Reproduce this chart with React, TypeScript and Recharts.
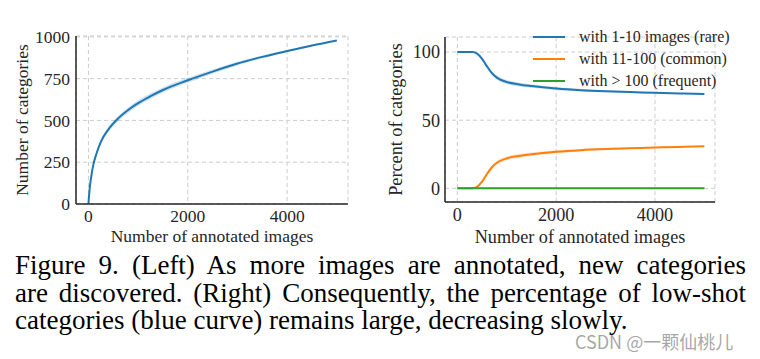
import { ComposedChart, Line, Area, XAxis, YAxis, CartesianGrid, Label } from 'recharts';

const BLUE = '#1f77b4';
const ORANGE = '#ff7f0e';
const GREEN = '#2ca02c';
const INK = '#262626';
const GRID = '#cccccc';
const SERIF = '"Liberation Serif", "Times New Roman", serif';

// left panel: categories discovered vs annotated images
const imagesX = [0, 25, 50, 100, 150, 250, 400, 600, 800, 1000, 1250, 1500, 2000, 2500, 3000, 3500, 4000, 4500, 5000];
const categoriesFound = [0, 92, 150, 237, 290, 372, 445, 512, 562, 603, 645, 682, 740, 792, 840, 880, 915, 948, 978];
const categoriesLow = [0, 87, 142, 226, 278, 358, 430, 496, 545, 586, 628, 665, 725, 779, 829, 871, 909, 944, 976];
const categoriesHigh = [0, 97, 158, 248, 302, 386, 460, 528, 579, 620, 662, 699, 755, 805, 851, 889, 921, 952, 980];
const leftYTicks = [0, 250, 500, 750, 1000];

// right panel: share of rare / common / frequent categories
const shotX = [0, 300, 400, 500, 600, 700, 800, 1000, 1250, 1500, 2000, 2500, 3000, 3500, 4000, 4500, 5000];
const rarePct = [100, 100, 98.8, 95, 89.5, 84.5, 81.2, 78, 76.2, 75, 73.2, 72, 71.2, 70.6, 70.1, 69.6, 69.2];
const rareLow = [100, 100, 98.5, 94.2, 88.3, 83, 79.7, 76.5, 74.7, 73.7, 72, 71, 70.4, 70, 69.6, 69.2, 68.9];
const rareHigh = [100, 100, 99.1, 95.8, 90.7, 86, 82.7, 79.5, 77.7, 76.3, 74.4, 73, 72, 71.2, 70.6, 70, 69.5];
const commonPct = [0, 0, 1.2, 5, 10.5, 15.5, 18.8, 22, 23.8, 25, 26.8, 28, 28.8, 29.4, 29.9, 30.4, 30.8];
const commonLow = [0, 0, 0.9, 4.2, 9.3, 14, 17.3, 20.5, 22.3, 23.7, 25.6, 27, 28, 28.8, 29.4, 30, 30.5];
const commonHigh = [0, 0, 1.5, 5.8, 11.7, 17, 20.3, 23.5, 25.3, 26.3, 28, 29, 29.6, 30, 30.4, 30.8, 31.1];
const frequentPct = [0, 0, 0, 0, 0, 0, 0, 0, 0, 0, 0, 0, 0, 0, 0, 0, 0];
const rightYTicks = [0, 50, 100];
const shotLabels = ['with 1-10 images (rare)', 'with 11-100 (common)', 'with > 100 (frequent)'];
const shotColors = [BLUE, ORANGE, GREEN];

const xTicks = [0, 2000, 4000];

const captionLines = [
  'Figure 9. (Left) As more images are annotated, new categories',
  'are discovered. (Right) Consequently, the percentage of low-shot',
  'categories (blue curve) remains large, decreasing slowly.',
];
const watermark = 'CSDN @一颗仙桃儿';

const leftData = imagesX.map((x, i) => ({
  x,
  found: categoriesFound[i],
  band: [categoriesLow[i], categoriesHigh[i]],
}));

const rightData = shotX.map((x, i) => ({
  x,
  rare: rarePct[i],
  rareBand: [rareLow[i], rareHigh[i]],
  common: commonPct[i],
  commonBand: [commonLow[i], commonHigh[i]],
  frequent: frequentPct[i],
}));

function ShotLegend() {
  return (
    <div
      style={{
        position: 'absolute',
        left: 533,
        top: 25.6,
        fontFamily: SERIF,
        fontSize: 16,
        color: INK,
        whiteSpace: 'nowrap',
      }}
    >
      {shotLabels.map((label, i) => (
        <div key={label} style={{ display: 'flex', alignItems: 'center', height: 22.2 }}>
          <svg width={32} height={4} style={{ marginRight: 14 }}>
            <line x1={0} y1={2} x2={32} y2={2} stroke={shotColors[i]} strokeWidth={2} />
          </svg>
          <span>{label}</span>
        </div>
      ))}
    </div>
  );
}

export default function App() {
  const leftTick = { fontSize: 17.5, fill: INK, fontFamily: SERIF };
  const rightTick = { fontSize: 18.2, fill: INK, fontFamily: SERIF };

  return (
    <div style={{ position: 'absolute', left: 0, top: 0, width: 760, height: 359, background: '#fff' }}>
      <div style={{ position: 'absolute', left: 0, top: 0 }}>
        <ComposedChart
          width={360}
          height={250}
          data={leftData}
          margin={{ top: 36, right: 12, bottom: 16, left: 16 }}
          style={{ fontFamily: SERIF }}
        >
          <CartesianGrid stroke={GRID} strokeDasharray="4 3" />
          <XAxis
            type="number"
            dataKey="x"
            domain={[-250, 5225]}
            ticks={xTicks}
            allowDataOverflow
            tickLine={false}
            tickSize={0}
            tickMargin={6}
            axisLine={{ stroke: INK, strokeWidth: 1.5 }}
            tick={leftTick}
          >
            <Label value="Number of annotated images" position="bottom" offset={-4} fill={INK} fontSize={17.5} fontFamily={SERIF} />
          </XAxis>
          <YAxis
            type="number"
            domain={[0, 1005]}
            ticks={leftYTicks}
            allowDataOverflow
            width={60}
            tickLine={false}
            tickSize={0}
            tickMargin={6}
            axisLine={{ stroke: INK, strokeWidth: 1.5 }}
            tick={leftTick}
          >
            <Label
              value="Number of categories"
              angle={-90}
              position="insideLeft"
              offset={6}
              fill={INK}
              fontSize={17.5}
              fontFamily={SERIF}
              style={{ textAnchor: 'middle' }}
            />
          </YAxis>
          <Area type="monotone" dataKey="band" stroke="none" fill={BLUE} fillOpacity={0.2} isAnimationActive={false} activeDot={false} />
          <Line type="monotone" dataKey="found" stroke={BLUE} strokeWidth={2} dot={false} activeDot={false} isAnimationActive={false} />
        </ComposedChart>
      </div>

      <div style={{ position: 'absolute', left: 380, top: 0 }}>
        <ComposedChart
          width={380}
          height={250}
          data={rightData}
          margin={{ top: 37, right: 45, bottom: 18, left: 5 }}
          style={{ fontFamily: SERIF }}
        >
          <CartesianGrid stroke={GRID} strokeDasharray="4 3" />
          <XAxis
            type="number"
            dataKey="x"
            domain={[-250, 5215]}
            ticks={xTicks}
            allowDataOverflow
            tickLine={false}
            tickSize={0}
            tickMargin={6}
            axisLine={{ stroke: INK, strokeWidth: 1.5 }}
            tick={rightTick}
          >
            <Label value="Number of annotated images" position="bottom" offset={-2} fill={INK} fontSize={18.2} fontFamily={SERIF} />
          </XAxis>
          <YAxis
            type="number"
            domain={[-10, 111]}
            ticks={rightYTicks}
            allowDataOverflow
            width={60}
            tickLine={false}
            tickSize={0}
            tickMargin={5}
            axisLine={{ stroke: INK, strokeWidth: 1.5 }}
            tick={rightTick}
          >
            <Label
              value="Percent of categories"
              angle={-90}
              position="insideLeft"
              offset={11}
              fill={INK}
              fontSize={18.2}
              fontFamily={SERIF}
              style={{ textAnchor: 'middle' }}
            />
          </YAxis>
          <Area type="monotone" dataKey="rareBand" stroke="none" fill={BLUE} fillOpacity={0.2} isAnimationActive={false} activeDot={false} />
          <Area type="monotone" dataKey="commonBand" stroke="none" fill={ORANGE} fillOpacity={0.2} isAnimationActive={false} activeDot={false} />
          <Line type="monotone" dataKey="rare" stroke={BLUE} strokeWidth={2} dot={false} activeDot={false} isAnimationActive={false} />
          <Line type="monotone" dataKey="common" stroke={ORANGE} strokeWidth={2} dot={false} activeDot={false} isAnimationActive={false} />
          <Line type="monotone" dataKey="frequent" stroke={GREEN} strokeWidth={2} dot={false} activeDot={false} isAnimationActive={false} />
        </ComposedChart>
      </div>

      <ShotLegend />

      <div
        style={{
          position: 'absolute',
          left: 15,
          top: 252,
          width: 731,
          fontFamily: SERIF,
          fontSize: 27,
          lineHeight: '27.5px',
          color: '#000',
          whiteSpace: 'nowrap',
        }}
      >
        {captionLines.map((line, i) => (
          <div key={i} style={{ textAlign: 'justify', textAlignLast: i < 2 ? 'justify' : 'left' }}>
            {line}
          </div>
        ))}
      </div>

      <div
        style={{
          position: 'absolute',
          left: 575,
          top: 328,
          fontFamily: '"Noto Sans CJK SC", "Noto Sans", sans-serif',
          fontSize: 18,
          color: 'rgba(150,150,150,0.85)',
          whiteSpace: 'nowrap',
        }}
      >
        {watermark}
      </div>
    </div>
  );
}
